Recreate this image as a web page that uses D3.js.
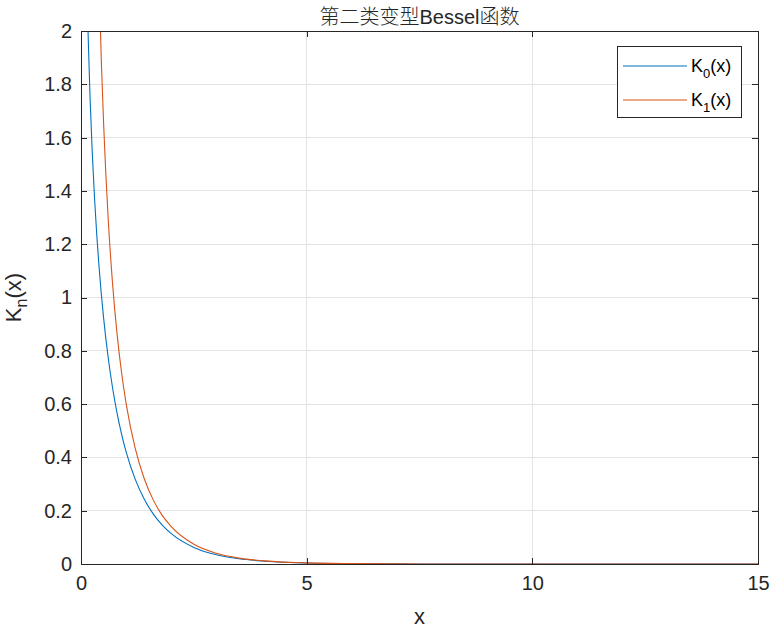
<!DOCTYPE html>
<html><head><meta charset="utf-8">
<script src="https://cdn.jsdelivr.net/npm/d3@7"></script>
<style>body{margin:0;background:#fff}</style>
</head><body>
<svg id="c" width="772" height="629"></svg>
<script>
const xs  = [0.1,0.12,0.15,0.2,0.25,0.3,0.35,0.4,0.45,0.5,0.6,0.7,0.8,0.9,1.0,1.2,1.4,1.6,1.8,2.0,2.5,3.0,3.5,4.0,5.0,6.0,7.0,8.0,10.0,12.0,15.0];
const k0  = [2.4271,2.248,2.030,1.7527,1.5415,1.3725,1.2327,1.1145,1.0129,0.9244,0.7775,0.6605,0.5653,0.4867,0.4210,0.3185,0.2437,0.1880,0.1459,0.1139,0.0623,0.0347,0.0196,0.0112,0.00369,0.00124,0.000425,0.000146,0.0000178,0.0000022,0.0000001];
const k1  = [9.8538,8.1826,6.4775,4.7760,3.7470,3.0560,2.5591,2.1844,1.8904,1.6564,1.3028,1.0503,0.8618,0.7165,0.6019,0.4346,0.3208,0.2406,0.1826,0.1399,0.0739,0.0402,0.0222,0.0125,0.00404,0.00134,0.000454,0.000155,0.0000186,0.0000023,0.0000001];
const xTicks = [0,5,10,15];
const yTicks = [0,0.2,0.4,0.6,0.8,1,1.2,1.4,1.6,1.8,2];
const seriesNames = ["K0","K1"];
const colors = ["#0072BD","#D95319"];
const titleParts = ["第二类变型","Bessel","函数"];

const svg = d3.select("#c");
const L=81, R=758, T=31, B=564;
const x = d3.scaleLinear().domain([0,15]).range([L,R]);
const y = d3.scaleLinear().domain([0,2]).range([B,T]);
const font = "'Liberation Sans', Arial, sans-serif";
const cjk = "'Noto Sans CJK SC', sans-serif";

// grid
svg.append("g").selectAll("line").data(xTicks.slice(1,-1)).join("line")
  .attr("x1",d=>x(d)).attr("x2",d=>x(d)).attr("y1",T).attr("y2",B)
  .attr("stroke","#e3e3e3").attr("stroke-width",1).attr("shape-rendering","crispEdges");
svg.append("g").selectAll("line").data(yTicks.slice(1,-1)).join("line")
  .attr("x1",L).attr("x2",R).attr("y1",d=>y(d)).attr("y2",d=>y(d))
  .attr("stroke","#e3e3e3").attr("stroke-width",1).attr("shape-rendering","crispEdges");

// clip
svg.append("clipPath").attr("id","clip").append("rect").attr("x",L).attr("y",T).attr("width",R-L).attr("height",B-T);

const line = d3.line().x(d=>x(d[0])).y(d=>y(d[1])).curve(d3.curveMonotoneX);
[k0,k1].forEach((s,i)=>{
  svg.append("path").attr("clip-path","url(#clip)")
    .attr("d", line(xs.map((v,j)=>[v,s[j]])))
    .attr("fill","none").attr("stroke",colors[i]).attr("stroke-width",1.1);
});

// axes
svg.append("g").attr("transform",`translate(0,${B})`)
  .call(d3.axisBottom(x).tickValues(xTicks).tickSizeInner(-6).tickSizeOuter(0).tickPadding(12).tickFormat(d3.format("d")));
svg.append("g").attr("transform",`translate(${L},0)`)
  .call(d3.axisLeft(y).tickValues(yTicks).tickSizeInner(-6).tickSizeOuter(0).tickPadding(9).tickFormat(d=>d3.format("")(+d.toFixed(1))));
svg.append("g").attr("transform",`translate(0,${T})`)
  .call(d3.axisTop(x).tickValues(xTicks).tickSizeInner(-6).tickSizeOuter(0).tickFormat(""));
svg.append("g").attr("transform",`translate(${R},0)`)
  .call(d3.axisRight(y).tickValues(yTicks).tickSizeInner(-6).tickSizeOuter(0).tickFormat(""));
svg.selectAll(".domain, .tick line").attr("stroke","#262626").attr("stroke-width",1).attr("shape-rendering","crispEdges");
svg.selectAll(".tick text").attr("fill","#262626").style("font-family",font).style("font-size","20px");

// labels
svg.append("text").attr("x",(L+R)/2).attr("y",624).attr("text-anchor","middle")
  .style("font-family",font).style("font-size","22px").attr("fill","#262626").text("x");
const yl = svg.append("text").attr("transform",`translate(21,${(T+B)/2}) rotate(-90)`).attr("text-anchor","middle")
  .style("font-family",font).style("font-size","22px").attr("fill","#262626");
yl.append("tspan").text("K");
yl.append("tspan").attr("dy",6).style("font-size","16px").text("n");
yl.append("tspan").attr("dy",-6).text("(x)");

// title
const tt = svg.append("text").attr("x",(L+R)/2).attr("y",24).attr("text-anchor","middle")
  .style("font-size","20px").attr("fill","#262626");
titleParts.forEach((p,i)=>{
  tt.append("tspan").style("font-family", i===1?font:cjk).style("font-weight", i===1?"normal":"300").text(p);
});

// legend
const lg = svg.append("g");
lg.append("rect").attr("x",617.5).attr("y",46.5).attr("width",124).attr("height",71)
  .attr("fill","#fff").attr("stroke","#262626").attr("stroke-width",1);
seriesNames.forEach((n,i)=>{
  const yy = 66 + i*34;
  lg.append("line").attr("x1",623).attr("x2",687).attr("y1",yy).attr("y2",yy).attr("stroke",colors[i]).attr("stroke-width",1.1);
  const t = lg.append("text").attr("x",691).attr("y",yy+6).style("font-family",font).style("font-size","18px").attr("fill","#000");
  t.append("tspan").text("K");
  t.append("tspan").attr("dy",6).style("font-size","13px").text(n.slice(1));
  t.append("tspan").attr("dy",-6).text("(x)");
});
</script>
</body></html>
